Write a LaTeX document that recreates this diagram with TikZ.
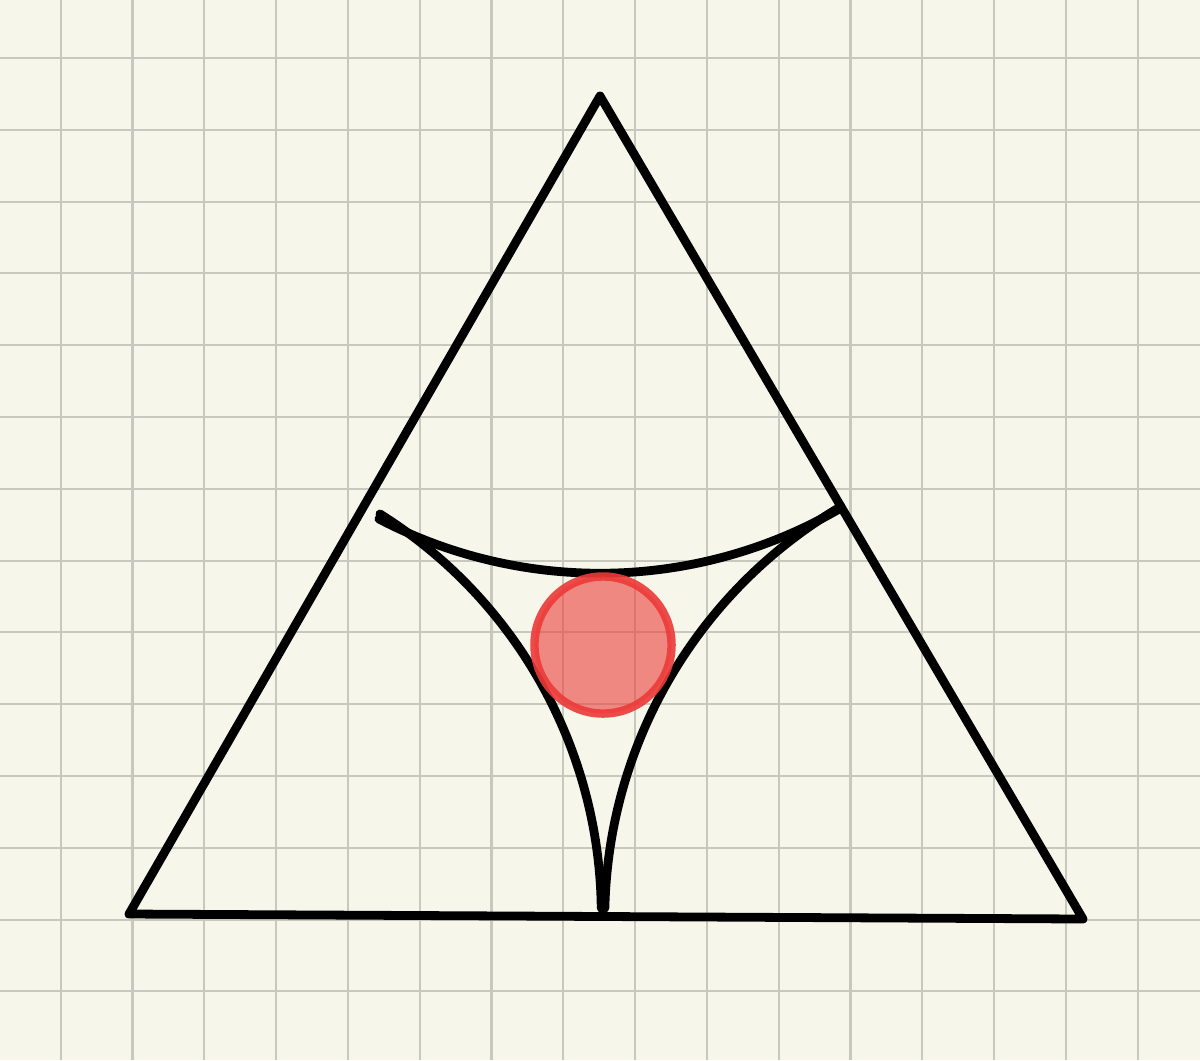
\documentclass[tikz,border=0pt]{standalone}
\usepackage{tikz}

\definecolor{paper}{RGB}{246,246,234}
\definecolor{gridline}{RGB}{200,201,190}
\definecolor{ballred}{RGB}{236,58,56}

\tikzset{
  edge/.style={line width=2.5pt, line cap=round, line join=round},
  ball/.style={draw=ballred, draw opacity=0.9, line width=2.4pt, fill=ballred, fill opacity=0.58}
}

\begin{document}
\begin{tikzpicture}[x=0.01cm, y=-0.01cm]
    \useasboundingbox (0,0) rectangle (1200,1060);
    \fill[paper] (0,0) rectangle (1200,1060);

    % grid
    \foreach \k in {0,...,15}
      \draw[gridline, line width=0.6pt] (60.7+71.8*\k,0) -- (60.7+71.8*\k,1060);
    \foreach \k in {0,...,13}
      \draw[gridline, line width=0.6pt] (0,58+71.8*\k) -- (1200,58+71.8*\k);

    \coordinate (top) at (600,96);
    \coordinate (left) at (129,914);
    \coordinate (right) at (1083,919);
    \coordinate (ballc) at (603,645);

    \draw[edge] (top) -- (left) -- (right) -- cycle;

    % arcs round the corners
    \draw[edge] (top) ++(242.4:4.77cm) arc[start angle=242.4, end angle=300.1, radius=4.77cm];
    \draw[edge] (left) ++(57.9:4.72cm) arc[start angle=57.9, end angle=0.7, radius=4.72cm];
    \draw[edge] (right) ++(120.4:4.78cm) arc[start angle=120.4, end angle=178.7, radius=4.78cm];

    \draw[ball] (ballc) circle[radius=0.685cm];
\end{tikzpicture}
\end{document}
